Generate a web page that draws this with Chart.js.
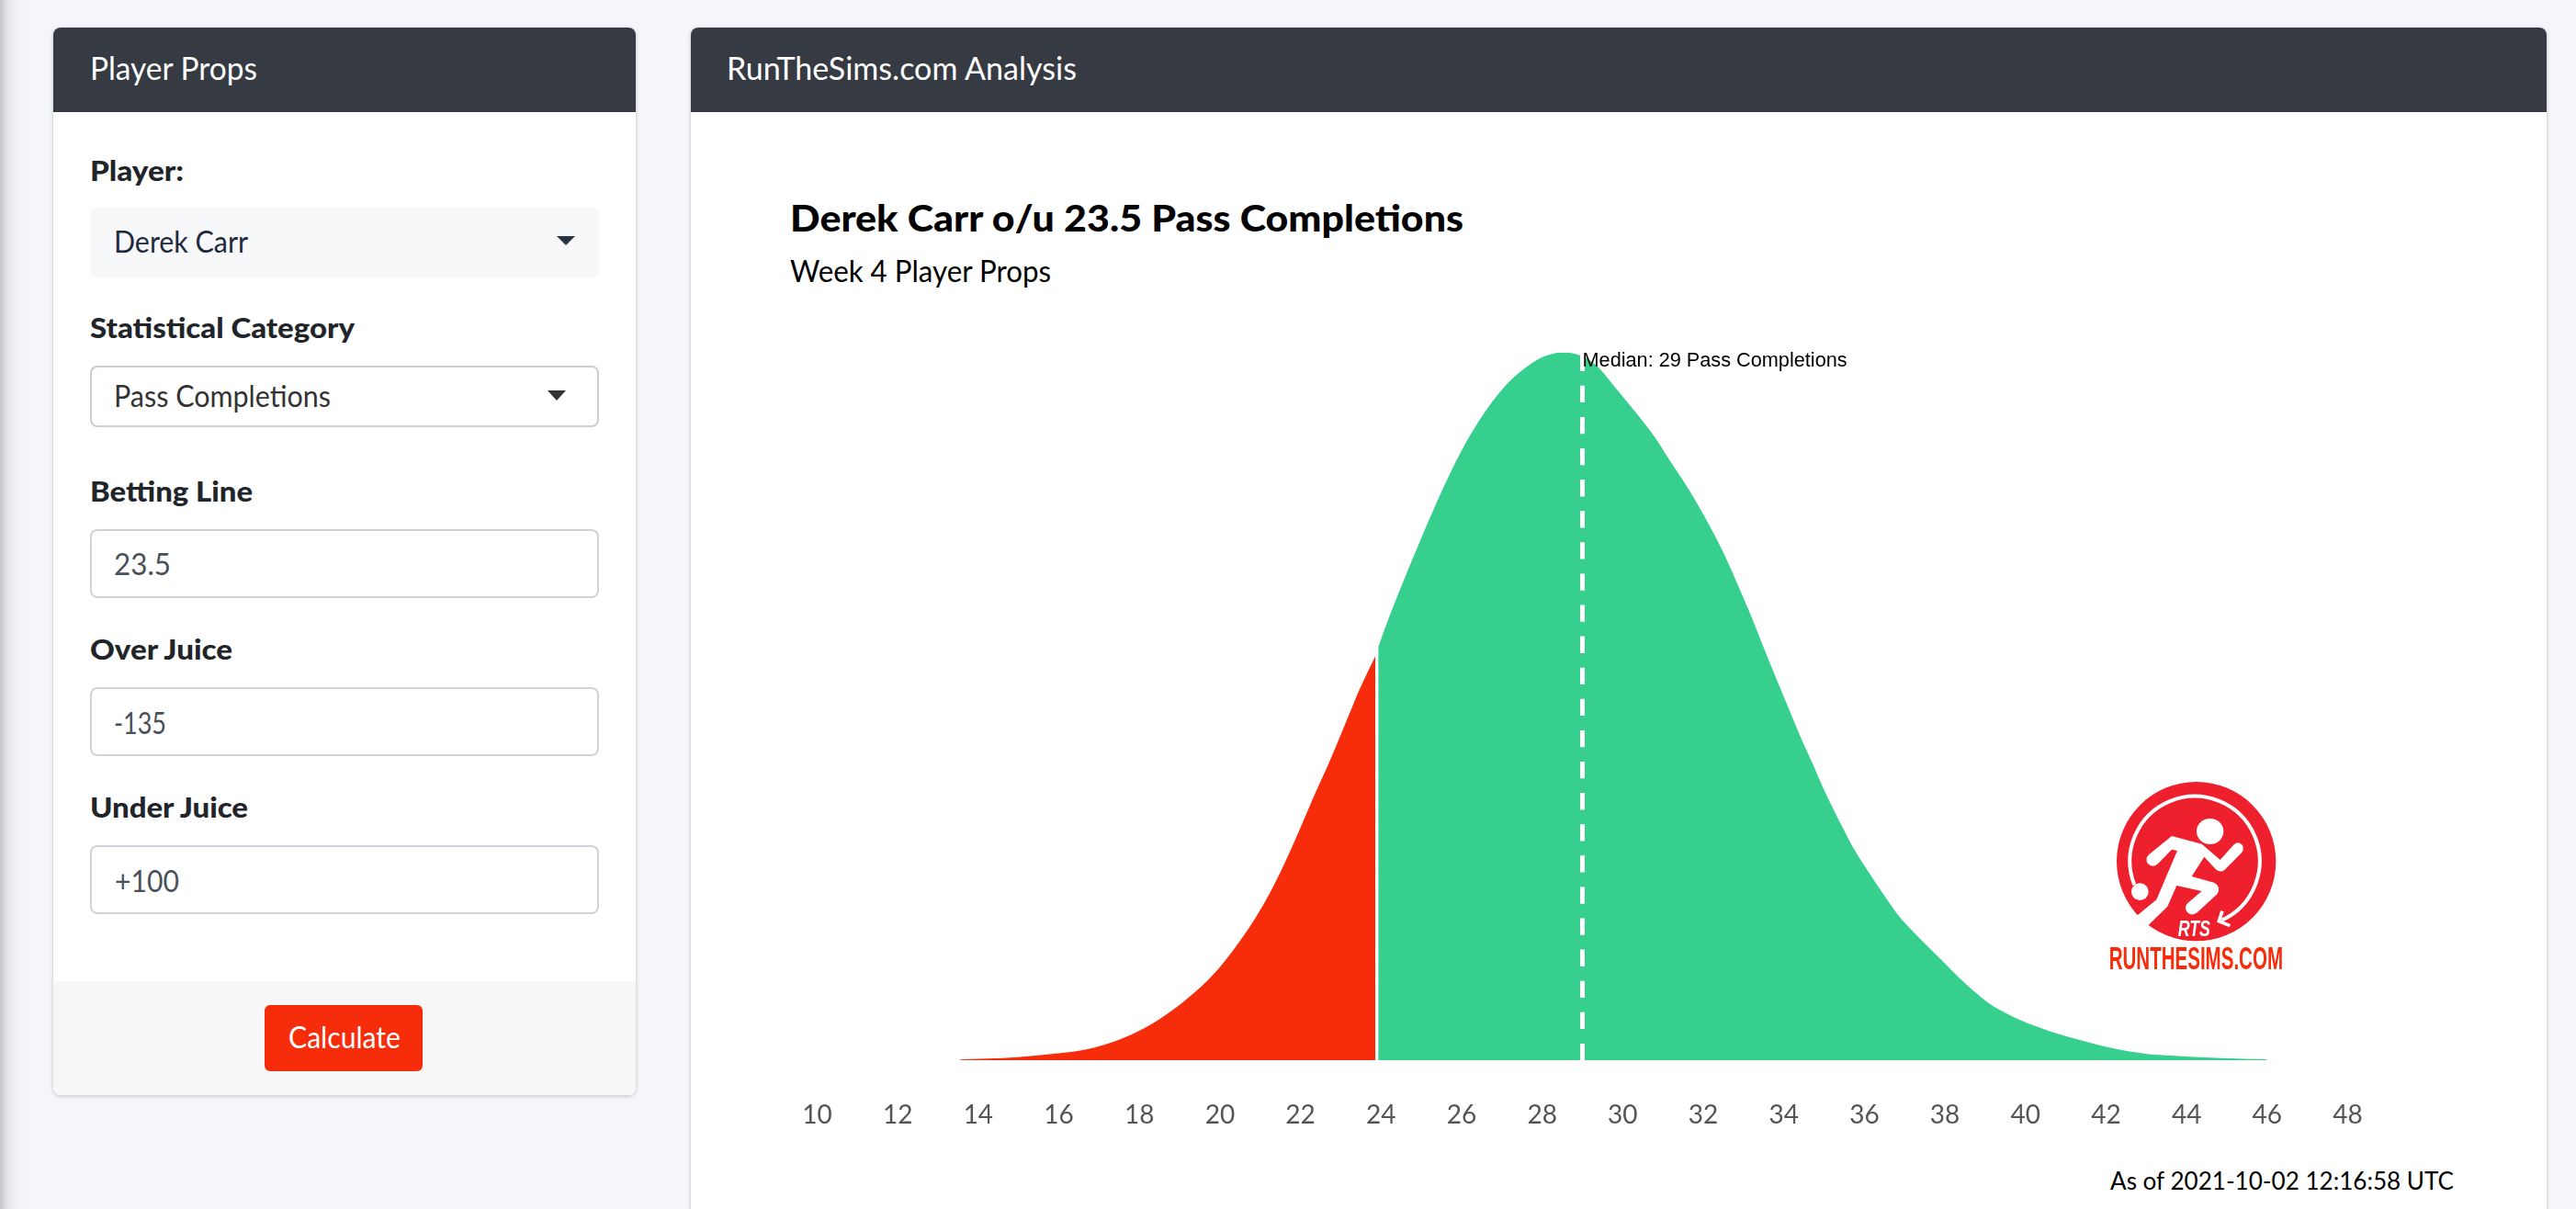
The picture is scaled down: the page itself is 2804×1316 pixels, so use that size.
<!DOCTYPE html>
<html lang="en"><head><meta charset="utf-8"><title>Player Props</title>
<script src="https://cdn.jsdelivr.net/npm/chart.js@4"></script>
<style>
html,body{margin:0;padding:0;width:2804px;height:1316px;overflow:hidden;background:#f4f6fa;font-family:Lato,sans-serif}
.edge{position:absolute;left:0;top:0;width:28px;height:1316px;background:linear-gradient(90deg,#c4c5c8,#e6e7ea 9px,#f1f3f7 20px,#f4f6fa 28px)}
.card{position:absolute;background:#fff;border-radius:8px;box-shadow:0 1px 4px rgba(0,0,0,.22);overflow:hidden}
.head{position:absolute;left:0;right:0;top:0;height:92px;background:#363a42}
.box{position:absolute;box-sizing:border-box;border:2.5px solid #ced4da;border-radius:8px;background:#fff}
.t{position:absolute;white-space:nowrap;line-height:1;transform-origin:0 50%}
.caret{position:absolute;width:0;height:0;border-style:solid;border-color:transparent}
canvas{position:absolute;left:760px;top:340px}
svg{position:absolute}
</style></head><body>
<div class="edge"></div>
<div class="card" style="left:58px;top:30px;width:634px;height:1162px">
  <div class="head"></div>
  <div style="position:absolute;left:0;right:0;top:1038px;bottom:0;background:#f7f7f7"></div>
</div>
<div class="card" style="left:752px;top:30px;width:2020px;height:1320px"><div class="head"></div></div>
<div class="box" style="left:98px;top:226px;width:554px;height:76px;background:#f7f8fa;border:none"></div>
<div class="box" style="left:98px;top:398px;width:554px;height:67px;border-color:#cdcdcd"></div>
<div class="box" style="left:98px;top:576px;width:554px;height:75px"></div>
<div class="box" style="left:98px;top:748px;width:554px;height:75px"></div>
<div class="box" style="left:98px;top:920px;width:554px;height:75px"></div>
<div class="caret" style="left:606px;top:257px;border-width:10px 10px 0;border-top-color:#2a3444"></div>
<div class="caret" style="left:596px;top:425px;border-width:11px 10px 0;border-top-color:#333"></div>
<div style="position:absolute;left:288px;top:1094px;width:172px;height:72px;background:#f62c0b;border-radius:6px"></div>
<div id="texts"></div>
<canvas id="c" width="1940" height="914" style="width:1940px;height:914px"></canvas>
<svg style="left:2240px;top:820px" width="280" height="260" viewBox="0 0 840 780">
  <circle cx="452" cy="353" r="260" fill="#ee202e"/>
  <path d="M250 430 A212 212 0 1 1 535 545" fill="none" stroke="#fff" stroke-width="12"/>
  <path d="M537 515 L526 548 L562 563" fill="none" stroke="#fff" stroke-width="11"/>
  <circle cx="268" cy="452" r="28" fill="#fff"/>
  <ellipse cx="497" cy="255" rx="44" ry="42" fill="#fff"/>
  <path fill="#fff" d="M372 270 L470 296 L530 348 L575 298 Q590 285 603 300 Q610 315 597 328 L545 380 Q530 392 515 378 L478 338 L437 402 L510 422 Q535 435 520 460 L455 520 Q435 535 420 515 Q412 500 425 488 L470 450 L388 432 L358 500 L295 562 L258 530 L322 478 L390 318 L372 314 L325 362 Q308 375 294 360 Q283 345 298 330 Z"/>
  <text x="392" y="597" textLength="106" lengthAdjust="spacingAndGlyphs" font-family="'Liberation Sans Narrow','Liberation Sans',sans-serif" font-weight="700" font-style="italic" font-size="72" fill="#fff">RTS</text>
  <text x="167" y="705" textLength="568" lengthAdjust="spacingAndGlyphs" font-family="'Liberation Sans Narrow','Liberation Sans',sans-serif" font-weight="700" font-size="107" fill="#f62c0b">RUNTHESIMS.COM</text>
</svg>
<script>
const tickValues=[10,12,14,16,18,20,22,24,26,28,30,32,34,36,38,40,42,44,46,48];
const underX=[13.55,14.23,14.98,15.99,16.63,17.01,17.39,17.77,18.15,18.53,18.91,19.29,19.67,20.05,20.43,20.81,21.19,21.57,21.95,22.33,22.71,23.28,23.47,23.86];
const underY=[0.8,1.8,3.3,7.5,11.3,15.2,20.4,27.2,35.5,45.5,57.3,70.7,85.7,104,125.7,150,178,211,248,287,324,384,404,440];
const overX=[23.93,24.23,24.61,24.99,25.37,25.75,26.13,26.51,26.89,27.27,27.65,28.03,28.49,28.94,29.36,29.78,30.31,30.81,31.15,31.6,31.98,32.29,32.59,32.89,33.2,33.5,33.81,34.11,34.41,34.72,35.02,35.45,35.71,36.09,36.47,36.85,37.23,37.61,37.99,38.37,38.75,39.13,39.51,39.89,40.27,40.65,41.03,41.41,41.79,42.17,42.55,42.93,43.31,43.69,44.46,45.25,45.98];
const overY=[449.7,485.7,527.3,567.3,606,642,674,701,724,742.3,755.7,765.7,770.3,767.3,755.7,734,705.7,677.3,654,624,595.7,570.7,544,514,482.3,449,415.7,384,352.3,322.3,292.3,254,232.3,205.7,180.7,157.3,139,122.3,105.7,89,74,60.7,51.3,43.3,36.7,30.7,25.7,21.3,16.7,13,9.7,7.3,5.7,4.7,3,1.8,1];
const medianValue=29, peakValue=770.3;
const medianLabel="Median: 29 Pass Completions";
const UNDER_COLOR="#f62c0b", OVER_COLOR="#37cf8e";

// text, x, centre y, width on page, font size, weight, colour
const textRows=[
["Player Props",98,74,182,34,400,"#fff"],
["RunTheSims.com Analysis",791,74,381,34,400,"#fff"],
["Player:",98,185,102,31,900,"#212529"],
["Derek Carr",124,263,146,32,400,"#1f2a3c"],
["Statistical Category",98,356,288,31,900,"#212529"],
["Pass Completions",124,431,236,32,400,"#333"],
["Betting Line",98,534,177,31,900,"#212529"],
["23.5",124,614,62,32,400,"#495057"],
["Over Juice",98,706,155,31,900,"#212529"],
["-135",124,787,57,32,400,"#495057"],
["Under Juice",98,878,172,31,900,"#212529"],
["+100",125,959,70,32,400,"#495057"],
["Calculate",314,1129,122,32,400,"#fff"],
["Derek Carr o/u 23.5 Pass Completions",860,237,733,39,900,"#000"],
["Week 4 Player Props",860,295,284,32,400,"#000"],
["As of 2021-10-02 12:16:58 UTC",2297,1284,374,27,400,"#000"]
];
const holder=document.getElementById("texts");
textRows.forEach(r=>{
  const d=document.createElement("div");d.className="t";d.textContent=r[0];
  d.style.cssText=`left:${r[1]}px;top:${r[2]-r[4]/2}px;font-size:${r[4]}px;font-weight:${r[5]};color:${r[6]}`;
  holder.appendChild(d);
  const w=d.getBoundingClientRect().width;
  d.style.transform=`scaleX(${r[3]/w})`;
});

const pts=(xs,ys)=>xs.map((x,i)=>({x,y:ys[i]}));
const medianText={id:"medianText",afterDatasetsDraw(ch){
  const c=ch.ctx;c.save();
  c.font='21.7px "Liberation Sans",Arial,sans-serif';c.fillStyle="#000";c.textBaseline="alphabetic";
  c.fillText(medianLabel,ch.scales.x.getPixelForValue(medianValue),ch.scales.y.top+15.6);
  c.restore();
}};
new Chart(document.getElementById("c"),{
  type:"line",
  data:{datasets:[
    {label:"Under",data:pts(underX,underY),fill:"origin",backgroundColor:UNDER_COLOR,borderWidth:0,pointRadius:0,cubicInterpolationMode:"monotone",order:2},
    {label:"Over",data:pts(overX,overY),fill:"origin",backgroundColor:OVER_COLOR,borderWidth:0,pointRadius:0,cubicInterpolationMode:"monotone",order:2},
    {label:"Median",data:[{x:medianValue,y:peakValue},{x:medianValue,y:0}],fill:false,borderColor:"#fff",borderWidth:5,borderDash:[18.3,15.8],borderDashOffset:-2,pointRadius:0,borderCapStyle:"butt",order:1}
  ]},
  options:{
    responsive:false,animation:false,devicePixelRatio:1,
    layout:{padding:{left:129.5,right:144.5,top:43.7,bottom:0}},
    plugins:{legend:{display:false},tooltip:{enabled:false},title:{display:false}},
    scales:{
      x:{type:"linear",min:10,max:48,grid:{display:false},border:{display:false},
        afterBuildTicks:s=>{s.ticks=tickValues.map(v=>({value:v}))},
        afterFit:s=>{s.height=100},
        ticks:{autoSkip:false,maxRotation:0,padding:35,color:"#555",font:{family:"Lato",size:28,weight:"400"}}},
      y:{display:false,min:0,max:peakValue}
    }
  },
  plugins:[medianText]
});
</script>
</body></html>
